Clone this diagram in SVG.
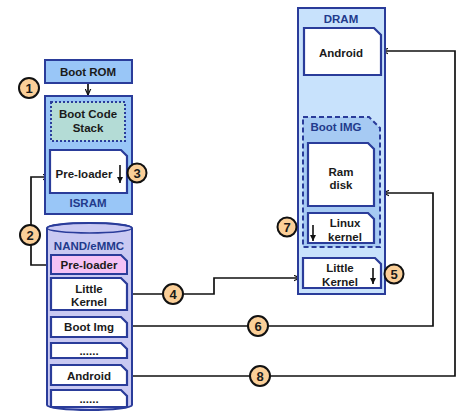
<svg xmlns="http://www.w3.org/2000/svg" width="474" height="420" viewBox="0 0 474 420">
<style>
text{font-family:"Liberation Sans",Arial,sans-serif;font-weight:bold;font-size:11.5px;text-anchor:middle;fill:#1a1a1a}
.lbl{fill:#223a8c}
.box{stroke:#2a3c9a;stroke-width:2}
.doc{fill:#fff;stroke:#2a3c9a;stroke-width:2.2}
.circ{fill:#fbcf98;stroke:#111;stroke-width:2}
.num{font-size:13px}
.wire{fill:none;stroke:#111;stroke-width:1.7}
.darr{stroke:#111;stroke-width:1.6}
</style>
<defs>
<marker id="ah" viewBox="0 0 10 10" refX="9" refY="5" markerWidth="7" markerHeight="7" orient="auto" markerUnits="userSpaceOnUse">
<path d="M0,1 L9,5 L0,9" fill="none" stroke="#111" stroke-width="1.7"/>
</marker>
<marker id="dh" viewBox="0 0 10 10" refX="10" refY="5" markerWidth="6" markerHeight="6" orient="auto" markerUnits="userSpaceOnUse">
<path d="M0,0 L10,5 L0,10 Z" fill="#111"/>
</marker>
</defs>
<rect width="474" height="420" fill="#fff"/>

<g id="connectors">
<path class="wire" d="M88,83 V95" marker-end="url(#ah)"/>
<path class="wire" d="M51,265 H31 V177 H49" marker-end="url(#ah)"/>
<path class="wire" d="M127,294 H214 V278 H300" marker-end="url(#ah)"/>
<path class="wire" d="M127,326 H433 V193 H383" marker-end="url(#ah)"/>
<path class="wire" d="M127,376 H455 V51 H382" marker-end="url(#ah)"/>
</g>

<g id="bootrom">
<rect class="box" x="45" y="60" width="87" height="23" fill="#99c6f7"/>
<text x="88" y="76">Boot ROM</text>
</g>

<g id="isram">
<rect class="box" x="45" y="96" width="87" height="118" fill="#99c6f7"/>
<text class="lbl" x="88" y="207">ISRAM</text>
</g>
<g id="bootcodestack">
<rect x="51" y="102" width="74" height="39" fill="#b4dcd6" stroke="#2a3c9a" stroke-width="2" stroke-dasharray="2,2"/>
<text x="88" y="118">Boot Code</text>
<text x="88" y="132">Stack</text>
</g>
<g id="preloader-sram">
<path class="doc" d="M50,150 H121 L127,156 V193 H50 Z"/>
<text x="84" y="178">Pre-loader</text>
<line class="darr" x1="120" y1="165" x2="120" y2="183" marker-end="url(#dh)"/>
</g>

<g id="nand">
<path class="box" d="M47,228 V405 A42.5,5 0 0 0 132,405 V228 A42.5,5 0 0 0 47,228 Z" fill="#c9c9f2"/>
<ellipse cx="89.5" cy="228" rx="42.5" ry="5" fill="none" stroke="#2a3c9a" stroke-width="1.5"/>
<text class="lbl" x="89" y="250">NAND/eMMC</text>
</g>
<g id="preloader-nand">
<path d="M51,255 H121 L127,261 V274 H51 Z" fill="#f5c2f5" stroke="#2a3c9a" stroke-width="2"/>
<text x="89" y="269">Pre-loader</text>
</g>
<g id="lk-nand">
<path class="doc" d="M51,278 H121 L127,284 V310 H51 Z"/>
<text x="89" y="293">Little</text>
<text x="89" y="306">Kernel</text>
</g>
<g id="bootimg-nand">
<path class="doc" d="M51,317 H121 L127,323 V337 H51 Z"/>
<text x="89" y="331">Boot Img</text>
</g>
<g id="dots1">
<path class="doc" d="M51,343 H121 L127,349 V358 H51 Z"/>
<text x="89" y="355">......</text>
</g>
<g id="android-nand">
<path class="doc" d="M51,365 H121 L127,371 V385 H51 Z"/>
<text x="89" y="380">Android</text>
</g>
<g id="dots2">
<path class="doc" d="M51,390 H121 L127,396 V407 H51 Z"/>
<text x="89" y="403">......</text>
</g>

<g id="dram">
<rect class="box" x="298" y="8" width="87" height="286" fill="#c8e2fc"/>
<text class="lbl" x="341" y="23">DRAM</text>
</g>
<g id="android-dram">
<path class="doc" d="M304,28 H374 L381,35 V75 H304 Z"/>
<text x="341" y="57">Android</text>
</g>
<g id="bootimg-dram">
<path d="M303,117 H369 L380,128 V247 H303 Z" fill="#a6caf3" stroke="#2a3c9a" stroke-width="2" stroke-dasharray="5,3"/>
<text class="lbl" x="336" y="131">Boot IMG</text>
</g>
<g id="ramdisk">
<path class="doc" d="M308,143 H368 L374,149 V206 H308 Z"/>
<text x="341" y="176">Ram</text>
<text x="341" y="189">disk</text>
</g>
<g id="linuxkernel">
<path class="doc" d="M308,213 H368 L374,219 V243 H308 Z"/>
<text x="345" y="227">Linux</text>
<text x="345" y="241">kernel</text>
<line class="darr" x1="313" y1="225" x2="313" y2="241" marker-end="url(#dh)"/>
</g>
<g id="lk-dram">
<rect x="300" y="255" width="83" height="36" fill="#c8e2fc" stroke="none"/>
<path class="doc" d="M303,258 H375 L381,264 V288 H303 Z"/>
<text x="340" y="272">Little</text>
<text x="340" y="286">Kernel</text>
<line class="darr" x1="373" y1="268" x2="373" y2="284" marker-end="url(#dh)"/>
</g>

<g id="c1"><circle class="circ" cx="29" cy="88" r="10"/><text class="num" x="29" y="92.5">1</text></g>
<g id="c2"><circle class="circ" cx="30" cy="235" r="10"/><text class="num" x="30" y="239.5">2</text></g>
<g id="c3"><circle class="circ" cx="137" cy="173" r="9.5"/><text class="num" x="137" y="177.5">3</text></g>
<g id="c4"><circle class="circ" cx="173" cy="294" r="10"/><text class="num" x="173" y="298.5">4</text></g>
<g id="c5"><circle class="circ" cx="394" cy="274" r="9.5"/><text class="num" x="394" y="278.5">5</text></g>
<g id="c6"><circle class="circ" cx="258" cy="326" r="10"/><text class="num" x="258" y="330.5">6</text></g>
<g id="c7"><circle class="circ" cx="287" cy="227" r="9.5"/><text class="num" x="287" y="231.5">7</text></g>
<g id="c8"><circle class="circ" cx="260" cy="376" r="10"/><text class="num" x="260" y="380.5">8</text></g>
</svg>
